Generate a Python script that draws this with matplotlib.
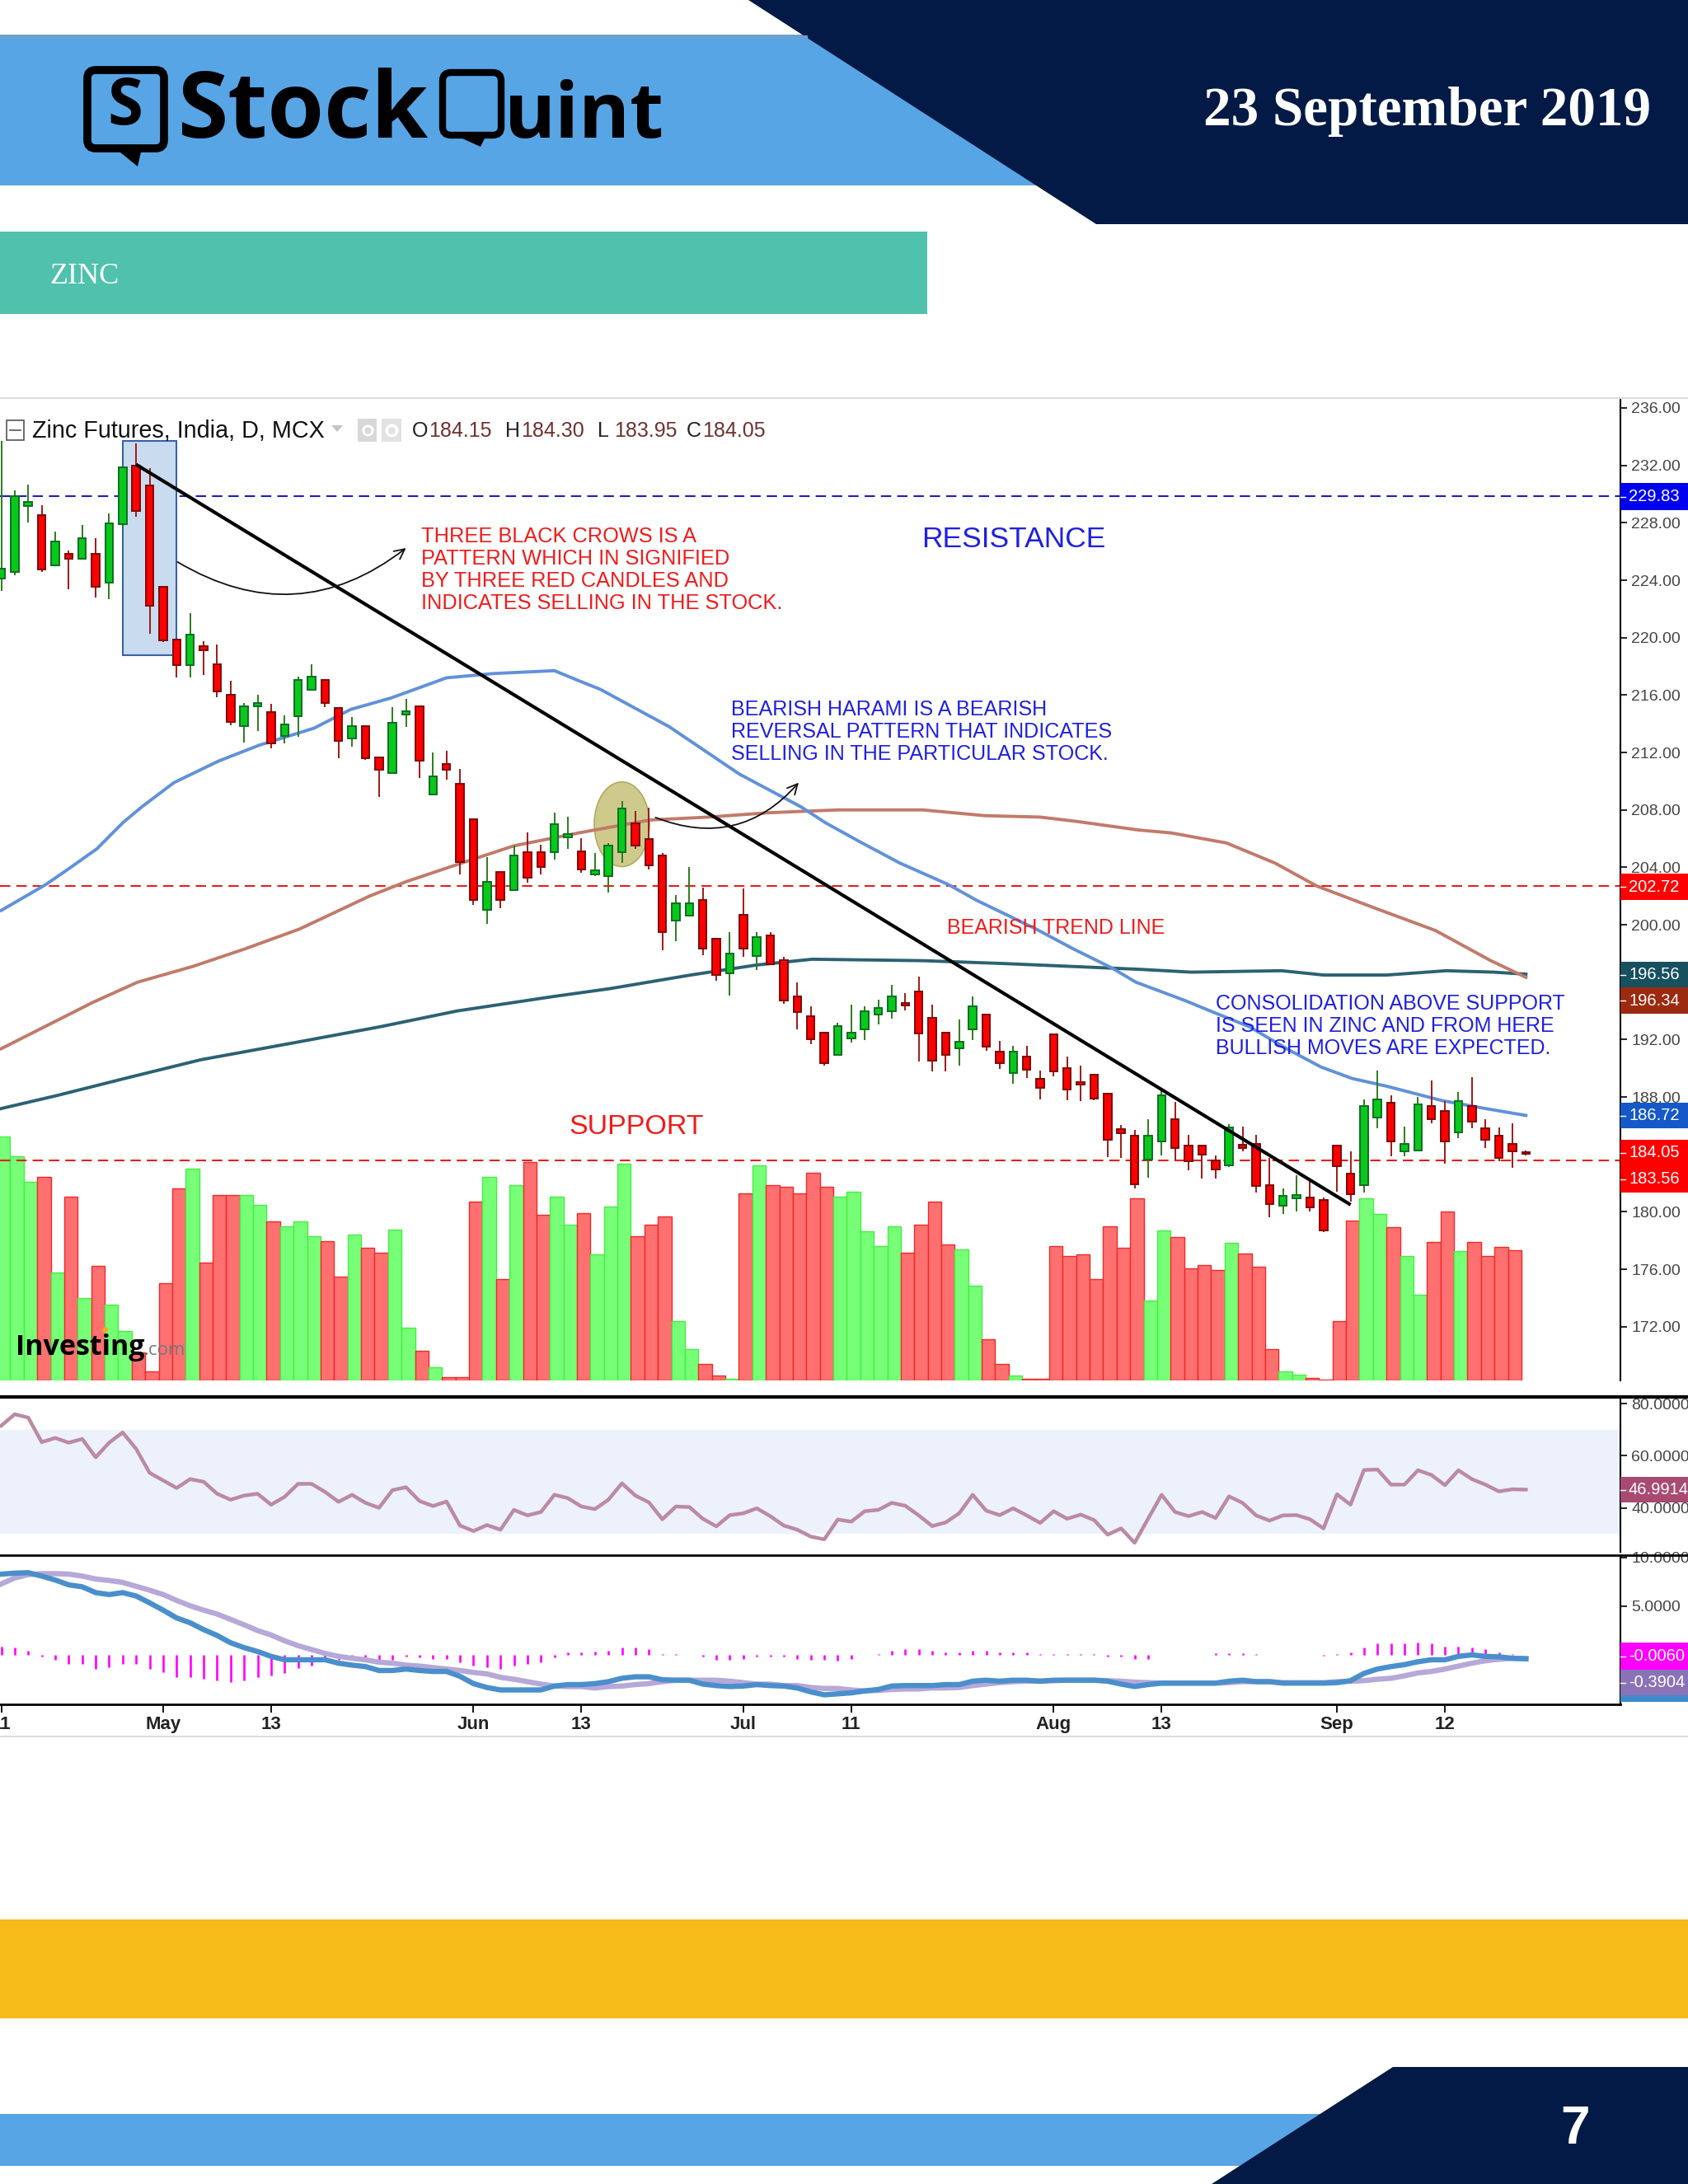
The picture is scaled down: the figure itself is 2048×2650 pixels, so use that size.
import matplotlib
matplotlib.use("Agg")
import matplotlib.pyplot as plt
from matplotlib.patches import Rectangle, Ellipse, Polygon, FancyBboxPatch

W, H = 2048, 2650
SANS = 'Liberation Sans'

opens = [224.14, 224.58, 229.17, 228.52, 225.03, 225.86, 225.47, 225.86, 223.85, 227.90,
         231.98, 230.62, 223.56, 219.87, 218.11, 219.41, 218.15, 216.04, 213.84, 215.20,
         214.80, 213.13, 214.53, 216.35, 217.06, 215.10, 213.00, 213.84, 211.64, 210.59,
         214.62, 215.24, 209.08, 211.18, 209.82, 207.37, 201.04, 203.68, 202.41, 205.08,
         205.08, 205.05, 206.10, 205.10, 203.49, 203.42, 205.05, 207.05, 205.97, 204.81,
         200.31, 200.65, 201.73, 199.04, 196.64, 200.67, 197.80, 199.28, 197.54, 195.01,
         193.61, 192.48, 190.92, 192.08, 192.69, 193.72, 193.95, 194.56, 195.35, 193.53,
         192.48, 191.40, 192.71, 193.74, 191.19, 189.68, 190.82, 189.26, 192.35, 190.03,
         189.05, 189.58, 188.21, 185.79, 185.32, 183.64, 184.93, 186.45, 184.62, 184.62,
         183.58, 183.27, 184.66, 184.73, 181.86, 180.42, 180.97, 181.02, 180.81, 184.62,
         182.66, 181.84, 186.55, 187.60, 184.21, 184.25, 187.37, 187.04, 185.53, 187.37,
         185.85, 185.32, 184.75, 184.15]
closes = [224.80, 229.88, 229.44, 224.77, 226.68, 225.47, 226.91, 223.52, 227.96, 231.88,
          228.82, 222.24, 219.83, 218.11, 220.21, 219.12, 216.23, 214.15, 215.24, 215.47,
          212.65, 213.97, 217.06, 217.30, 215.43, 212.79, 213.84, 211.60, 210.80, 214.09,
          214.85, 211.41, 210.36, 210.80, 204.34, 201.70, 202.97, 201.70, 204.81, 203.28,
          204.00, 207.03, 206.31, 203.86, 203.78, 205.52, 208.08, 205.52, 204.13, 199.51,
          201.49, 201.49, 198.33, 196.48, 198.01, 198.33, 199.15, 197.27, 194.72, 193.93,
          192.00, 190.34, 192.93, 192.48, 193.95, 194.19, 195.01, 194.40, 192.42, 190.55,
          190.92, 191.87, 194.30, 191.50, 190.34, 191.19, 189.89, 188.63, 189.79, 188.52,
          188.85, 187.90, 185.03, 185.48, 181.92, 185.32, 188.11, 184.46, 183.54, 184.01,
          182.96, 185.89, 184.42, 181.79, 180.52, 181.12, 181.16, 180.32, 178.68, 183.17,
          181.22, 187.37, 187.82, 184.93, 184.73, 187.49, 186.43, 184.93, 187.70, 186.30,
          185.05, 183.76, 184.23, 184.05]
highs = [233.70, 230.26, 230.64, 229.24, 227.39, 226.09, 227.87, 226.95, 228.67, 231.92,
         233.51, 231.79, 223.60, 219.90, 221.70, 219.73, 219.54, 217.00, 215.47, 216.04,
         215.39, 214.57, 217.30, 218.15, 217.10, 215.15, 214.47, 213.84, 211.64, 215.14,
         215.72, 215.24, 211.98, 212.14, 210.87, 207.40, 204.73, 203.70, 205.52, 206.45,
         205.58, 207.84, 207.50, 206.05, 205.00, 205.66, 208.60, 207.95, 208.16, 205.00,
         202.10, 204.02, 202.57, 199.04, 199.51, 202.55, 199.51, 199.51, 197.75, 195.96,
         194.32, 192.48, 193.19, 194.45, 194.32, 194.80, 195.82, 195.24, 196.38, 194.45,
         192.48, 193.40, 195.01, 193.74, 191.90, 191.56, 191.56, 189.84, 192.35, 190.84,
         190.20, 189.58, 188.21, 186.04, 185.69, 186.47, 188.56, 187.64, 185.34, 184.62,
         183.95, 186.14, 185.94, 185.34, 183.74, 181.63, 182.57, 182.20, 181.02, 184.62,
         184.21, 187.84, 189.83, 188.11, 185.94, 188.01, 189.13, 187.70, 188.35, 189.38,
         186.47, 185.89, 186.16, 184.30]
lows = [223.27, 224.33, 228.02, 224.56, 225.00, 223.37, 225.47, 222.80, 222.70, 227.68,
        228.44, 220.25, 219.68, 217.25, 217.25, 217.38, 215.87, 213.90, 212.71, 213.48,
        212.27, 212.62, 213.07, 216.35, 215.18, 211.60, 212.41, 211.47, 208.92, 210.59,
        213.80, 210.22, 209.08, 210.11, 203.49, 201.36, 200.04, 201.18, 202.36, 202.94,
        203.49, 204.55, 205.26, 203.63, 203.42, 202.23, 204.29, 205.26, 203.86, 198.20,
        198.88, 200.65, 197.88, 196.09, 195.06, 197.75, 196.83, 197.17, 194.51, 192.74,
        191.69, 190.21, 190.92, 191.82, 191.95, 193.08, 193.45, 194.01, 190.45, 189.76,
        189.76, 190.21, 191.95, 191.24, 189.97, 188.92, 189.31, 187.86, 189.42, 187.79,
        187.70, 187.78, 183.84, 183.74, 181.63, 182.37, 183.95, 183.60, 182.92, 182.35,
        182.35, 183.13, 184.21, 181.32, 179.60, 179.85, 180.05, 180.05, 178.62, 181.43,
        180.73, 181.34, 185.83, 183.89, 183.89, 184.25, 186.16, 183.37, 185.12, 185.83,
        184.44, 183.54, 183.07, 183.95]

volumes = [64.5, 59.2, 52.5, 53.8, 28.5, 48.6, 21.8, 30.2, 20.1, 13.0,
           7.5, 2.5, 25.7, 50.8, 56.0, 31.1, 49.0, 49.0, 49.0, 46.5,
           42.0, 40.8, 42.0, 38.2, 36.8, 27.5, 38.5, 35.0, 33.7, 39.8,
           14.0, 7.8, 3.5, 0.8, 0.8, 47.3, 53.8, 26.7, 51.7, 57.8,
           43.8, 48.6, 41.2, 44.3, 33.3, 46.0, 57.3, 38.1, 41.2, 43.4,
           15.7, 8.2, 4.3, 1.3, 0.5, 49.5, 56.8, 51.7, 51.2, 49.5,
           55.0, 51.2, 48.6, 49.9, 39.5, 35.5, 40.8, 33.7, 41.2, 47.3,
           36.0, 34.7, 25.0, 11.0, 4.3, 1.3, 0.4, 0.4, 35.5, 32.9,
           33.3, 26.7, 40.8, 35.0, 48.1, 21.2, 39.7, 38.0, 29.7, 30.6,
           29.2, 36.3, 33.6, 30.1, 8.2, 2.5, 1.6, 0.6, 0.2, 15.6,
           42.3, 48.1, 44.1, 40.6, 32.8, 22.6, 36.7, 44.6, 34.1, 36.7,
           32.8, 35.3, 34.5]

ma50_x = [0, 3.3, 5, 7.1, 9, 10.4, 12.8, 16.1, 19.1, 23.2, 25.9, 28.9, 33, 36.5, 41, 42.8, 44.4, 49.5,
          54.7, 59.3, 61.1, 63.6, 66.6, 70.2, 72.3, 76.7, 79.5, 82.3, 84.1, 87.8, 89.6, 92.5, 95.4, 97.8,
          100.1, 102.7, 106.8, 110, 113]
ma50_y = [201.0, 202.8, 203.9, 205.3, 207.1, 208.2, 209.9, 211.4, 212.5, 213.7, 215.0, 215.8, 217.2, 217.5,
          217.7, 217.0, 216.4, 213.8, 210.5, 208.2, 207.1, 205.8, 204.3, 202.8, 201.7, 199.7, 198.3, 197.0,
          196.0, 194.7, 194.0, 192.9, 191.3, 190.1, 189.3, 188.75, 187.75, 187.2, 186.72]
ma100_x = [0, 6.8, 10.1, 14.2, 18, 22.1, 27.3, 30, 33.8, 38, 42.8, 48.1, 52.4, 56.8, 62, 68.3, 72.9, 77,
           79.7, 84.3, 86.7, 90.8, 94.4, 97.5, 101.7, 106.3, 110.4, 113]
ma100_y = [191.37, 194.6, 196.0, 197.1, 198.3, 199.7, 202.0, 203.0, 204.2, 205.5, 206.4, 207.3, 207.5, 207.8,
           208.0, 208.0, 207.6, 207.5, 207.2, 206.6, 206.4, 205.7, 204.3, 202.7, 201.2, 199.6, 197.5, 196.34]
ma200_x = [0, 4.1, 9.6, 14.8, 21.8, 28.1, 33.8, 40.9, 45.1, 51.1, 56, 60.1, 68.3, 74.3, 84.3, 88.2, 94.9,
           98, 102.7, 107.1, 110.6, 113]
ma200_y = [187.2, 188.1, 189.4, 190.6, 191.8, 192.9, 194.0, 195.0, 195.55, 196.5, 197.2, 197.6, 197.5, 197.3,
           196.9, 196.7, 196.8, 196.5, 196.5, 196.8, 196.7, 196.56]

rsi = [71.5, 75.9, 74.6, 65.2, 66.8, 65.0, 66.4, 59.4, 65.0, 68.9,
       62.6, 53.4, 50.5, 47.6, 51.0, 50.0, 45.4, 43.1, 44.7, 45.4,
       41.2, 44.2, 49.2, 49.2, 46.1, 42.3, 45.0, 41.9, 40.0, 46.8,
       47.9, 42.6, 40.7, 42.4, 33.2, 31.1, 33.4, 31.6, 39.2, 37.1,
       38.4, 45.0, 43.7, 40.5, 39.5, 43.1, 49.4, 44.7, 42.1, 35.6,
       40.5, 40.3, 35.8, 32.9, 37.2, 37.9, 39.8, 36.8, 33.2, 31.6,
       28.97, 27.9, 35.5, 34.7, 38.7, 39.2, 41.9, 40.8, 37.1, 33.0,
       34.4, 37.9, 45.0, 38.9, 37.2, 39.8, 37.1, 34.2, 38.7, 35.8,
       37.4, 35.3, 29.7, 32.1, 26.6, 35.8, 45.0, 38.4, 36.8, 38.4,
       36.1, 44.4, 41.9, 37.1, 35.1, 37.1, 37.2, 35.6, 32.1, 45.2,
       41.2, 54.5, 54.7, 48.9, 48.9, 54.4, 52.6, 48.7, 54.4, 51.0,
       48.9, 46.3, 47.1, 46.99]

macd = [8.3, 8.4, 8.45, 8.1, 7.7, 7.2, 7.0, 6.4, 6.2, 6.4,
        6.05, 5.35, 4.6, 3.8, 3.3, 2.6, 2.0, 1.25, 0.75, 0.35,
        -0.15, -0.5, -0.5, -0.5, -0.5, -0.85, -1.05, -1.2, -1.6, -1.6,
        -1.45, -1.6, -1.7, -1.7, -2.2, -2.95, -3.35, -3.6, -3.6, -3.6,
        -3.6, -3.2, -3.05, -3.05, -2.95, -2.75, -2.4, -2.25, -2.25, -2.55,
        -2.6, -2.6, -3.0, -3.15, -3.25, -3.2, -3.05, -3.15, -3.2, -3.4,
        -3.8, -4.1, -4.0, -3.9, -3.7, -3.55, -3.2, -3.15, -3.15, -3.15,
        -3.05, -3.05, -2.7, -2.6, -2.7, -2.6, -2.6, -2.7, -2.6, -2.6,
        -2.6, -2.6, -2.7, -3.0, -3.25, -3.05, -2.9, -2.9, -2.9, -2.9,
        -2.9, -2.7, -2.6, -2.75, -2.75, -2.9, -2.9, -2.9, -2.9, -2.85,
        -2.65, -1.9, -1.45, -1.2, -1.0, -0.7, -0.5, -0.5, -0.15, 0.0,
        -0.15, -0.2, -0.35, -0.39]
signal = [7.3, 7.9, 8.25, 8.35, 8.35, 8.3, 8.1, 7.8, 7.65, 7.45,
          7.05, 6.65, 6.2, 5.6, 5.05, 4.6, 4.2, 3.65, 3.1, 2.5,
          2.05, 1.45, 0.95, 0.55, 0.15, -0.15, -0.35, -0.5, -0.75, -0.85,
          -1.05, -1.15, -1.3, -1.45, -1.6, -1.8, -1.95, -2.3, -2.5, -2.75,
          -3.0, -3.2, -3.25, -3.25, -3.4, -3.25, -3.2, -3.05, -2.95, -2.75,
          -2.6, -2.6, -2.6, -2.6, -2.7, -2.85, -3.0, -3.0, -3.15, -3.15,
          -3.35, -3.45, -3.45, -3.6, -3.7, -3.65, -3.55, -3.5, -3.5, -3.4,
          -3.4, -3.35, -3.15, -3.0, -2.85, -2.75, -2.7, -2.7, -2.65, -2.6,
          -2.6, -2.6, -2.65, -2.7, -2.8, -2.85, -2.9, -2.9, -2.9, -2.9,
          -2.9, -2.85, -2.75, -2.75, -2.75, -2.85, -2.85, -2.85, -2.85, -2.75,
          -2.7, -2.65, -2.5, -2.4, -2.15, -1.85, -1.7, -1.45, -1.15, -0.85,
          -0.6, -0.45, -0.35, -0.39]
hist = [.88, .74, .40, -.17, -.54, -.90, -.90, -1.44, -1.24, -.90,
        -.90, -1.44, -1.75, -2.26, -2.26, -2.46, -2.60, -2.80, -2.66, -2.26,
        -2.09, -1.90, -1.38, -1.10, -.54, -.54, -.54, -.62, -.68, -.54,
        -.17, -.28, -.45, -.45, -.73, -1.10, -1.30, -1.44, -1.10, -.96,
        -.73, -.23, .23, .23, .37, .40, .74, .74, .56, .10,
        .10, 0, -.17, -.54, -.54, -.45, -.20, -.20, -.20, -.40,
        -.54, -.54, -.62, -.45, 0, .10, .45, .60, .60, .40,
        .23, .23, .45, .45, .23, .23, .23, .10, .10, .10,
        .10, .10, -.17, -.17, -.40, -.40, 0, 0, 0, 0,
        .17, .17, .17, .10, 0, 0, 0, 0, -.10, .10,
        .23, .74, 1.16, 1.16, 1.16, 1.30, 1.16, .88, .88, .74,
        .60, .23, .10, 0]

price_ticks = [172, 176, 180, 184, 188, 192, 196, 200, 204, 208, 212, 216, 220, 224, 228, 232, 236]
rsi_ticks = [40, 60, 80]
macd_ticks = [5, 10]
date_ticks = [0, 12, 20, 35, 43, 55, 63, 78, 86, 99, 107]
date_labels = ['11', 'May', '13', 'Jun', '13', 'Jul', '11', 'Aug', '13', 'Sep', '12']
resistance = 229.83
levels_red = [202.72, 183.56]

BAR_PX = 16.37
X0 = 1.5
AXIS_PX = 1966
xlim = (-X0 / BAR_PX, (AXIS_PX - X0) / BAR_PX)


def make_axes(fig, top, bottom):
    ax = fig.add_axes([0, 1 - bottom / H, AXIS_PX / W, (bottom - top) / H])
    ax.set_xlim(*xlim)
    ax.patch.set_alpha(0)
    for s in ['top', 'left', 'bottom']:
        ax.spines[s].set_visible(False)
    ax.spines['right'].set_linewidth(1.5)
    ax.set_xticks([])
    ax.yaxis.tick_right()
    ax.tick_params(axis='y', length=6, width=1.2, pad=3.5, labelsize=14, labelcolor='#444444')
    return ax


def draw_price(ax):
    x = list(range(len(opens)))
    up = [c >= o for o, c in zip(opens, closes)]
    for level in levels_red:
        ax.plot(xlim, [level, level], color='#e81c1c', lw=1.5, dashes=(6, 3.5), zorder=1)
    ax.plot(xlim, [resistance, resistance], color='#1c1cd0', lw=1.5, dashes=(6, 3.5), zorder=1)

    ax.add_patch(Rectangle((9.0, 218.8), 3.98, 14.9, facecolor='#c9dcef', edgecolor='#3a62a7', lw=1.5, zorder=1.5))
    ax.add_patch(Ellipse((46.0, 207.0), 4.1, 5.9, facecolor='#cdca8c', edgecolor='#b0ab62', lw=1.2, zorder=1.5))

    ax.plot(ma200_x, ma200_y, color='#2c6172', lw=2.8, zorder=2)
    ax.plot(ma100_x, ma100_y, color='#c27a6a', lw=2.8, zorder=2)
    ax.plot(ma50_x, ma50_y, color='#6291da', lw=2.8, zorder=2)

    wick_colors = ['#2f7a1e' if u else '#a01818' for u in up]
    ax.vlines(x, lows, highs, colors=wick_colors, lw=1.4, zorder=3)
    bottoms = [min(o, c) for o, c in zip(opens, closes)]
    heights = [abs(c - o) for o, c in zip(opens, closes)]
    ax.bar(x, heights, bottom=bottoms, width=0.58,
           color=['#08c81c' if u else '#ff0000' for u in up],
           edgecolor=['#0f6e22' if u else '#7d0a0a' for u in up], linewidth=1.4, zorder=4)

    # trend line and pattern arrows
    ax.plot([10.1, 99.9], [232.0, 180.56], color='black', lw=3, zorder=5)
    ax.annotate('', xy=(30.0, 226.24), xytext=(13.07, 225.27),
                arrowprops=dict(arrowstyle='->', connectionstyle='arc3,rad=0.34', color='#111111',
                                lw=1.3, shrinkA=0, shrinkB=0, mutation_scale=22), zorder=5)
    ax.annotate('', xy=(59.1, 209.9), xytext=(48.5, 207.47),
                arrowprops=dict(arrowstyle='->', connectionstyle='arc3,rad=0.35', color='#111111',
                                lw=1.3, shrinkA=0, shrinkB=0, mutation_scale=22), zorder=5)

    red = '#f01c1c'
    blue = '#2020e0'
    opts = dict(family=SANS, va='center', ha='left', zorder=6, linespacing=1.16)
    ax.text(31.1, 224.7, 'THREE BLACK CROWS IS A\nPATTERN WHICH IN SIGNIFIED\nBY THREE RED CANDLES AND\n'
            'INDICATES SELLING IN THE STOCK.', color=red, fontsize=18.3, **opts)
    ax.text(68.2, 226.85, 'RESISTANCE', color=blue, fontsize=25.5, **opts)
    ax.text(54.1, 213.45, 'BEARISH HARAMI IS A BEARISH\nREVERSAL PATTERN THAT INDICATES\n'
            'SELLING IN THE PARTICULAR STOCK.', color=blue, fontsize=18.1, **opts)
    ax.text(70.1, 199.8, 'BEARISH TREND LINE', color=red, fontsize=18, **opts)
    ax.text(42.1, 185.9, 'SUPPORT', color=red, fontsize=24.5, **opts)
    ax.text(90.0, 192.95, 'CONSOLIDATION ABOVE SUPPORT\nIS SEEN IN ZINC AND FROM HERE\n'
            'BULLISH MOVES ARE EXPECTED.', color=blue, fontsize=18, **opts)


def draw_volume(ax):
    up = [c >= o for o, c in zip(opens, closes)]
    x = [i + 0.17 for i in range(len(volumes))]
    ax.bar(x, volumes, width=1.0,
           color=['#77ff77' if up[i] else '#ff7070' for i in range(len(volumes))],
           edgecolor=['#45ee45' if up[i] else '#ee2a2a' for i in range(len(volumes))], linewidth=1.0)


def draw_rsi(ax):
    ax.axhspan(30, 70, facecolor='#ecf1fc', edgecolor='none')
    ax.plot(range(len(rsi)), rsi, color='#bb8aa4', lw=3.2)


def draw_macd(ax):
    x = list(range(len(macd)))
    ax.vlines(x, 0, hist, colors='#ff00ff', lw=1.9)
    ax.plot(x, signal, color='#b6a8d8', lw=4.6)
    ax.plot(x, macd, color='#4a8fcc', lw=4.6)
    ax.spines['bottom'].set_visible(True)
    ax.spines['bottom'].set_linewidth(2)
    ax.set_xticks(date_ticks)
    ax.set_xticklabels(date_labels, family=SANS, fontsize=16, fontweight='bold', color='#222222')
    ax.tick_params(axis='x', length=7, width=1.3, pad=3)


def price_box(page, text, top, bottom, color):
    page.add_patch(Rectangle((1966, top), 82, bottom - top, facecolor=color, edgecolor='none'))
    page.plot([1966, 1972], [(top + bottom) / 2] * 2, color='white', lw=1)
    page.text(1976, (top + bottom) / 2, text, color='white', fontsize=14.5, family=SANS,
              va='center', ha='left')


def bubble(page, x0, y0, x1, y1, tail, lw):
    page.add_patch(FancyBboxPatch((x0, y0), x1 - x0, y1 - y0, boxstyle='round,pad=0,rounding_size=10',
                                  facecolor='none', edgecolor='black', lw=lw))
    page.add_patch(Polygon(tail, closed=True, facecolor='black', edgecolor='none'))


def draw_page(page):
    page.set_xlim(0, W)
    page.set_ylim(H, 0)
    page.axis('off')
    page.patch.set_alpha(0)

    # header shapes
    page.add_patch(Rectangle((0, 42), 1300, 183, facecolor='#58a5e6', edgecolor='none'))
    page.plot([0, 978], [45, 45], color='#6f9fce', lw=3)
    page.add_patch(Polygon([(908, 0), (W, 0), (W, 272), (1330, 272)], closed=True, facecolor='#021a45', edgecolor='none'))
    page.text(1460, 136, '23 September 2019', color='white', family='Liberation Serif', fontweight='bold',
              fontsize=48.3, va='center', ha='left')

    # logo
    bubble(page, 106, 85, 199, 180, [(140, 180), (172, 180), (167, 202)], 7)
    page.text(152, 131, 'S', color='black', family='Open Sans', fontweight='bold', fontsize=56, va='center', ha='center')
    page.text(216, 167, 'Stock', color='black', family='Open Sans', fontweight='bold', fontsize=80, va='baseline', ha='left')
    bubble(page, 537, 88, 608, 164, [(552, 164), (590, 164), (583, 178)], 6)
    page.text(612, 167, 'uint', color='black', family='Open Sans', fontweight='bold', fontsize=68, va='baseline', ha='left')

    # section bar
    page.add_patch(Rectangle((0, 281), 1125, 100, facecolor='#4fc1ac', edgecolor='none'))
    page.text(60, 336, 'ZINC', color='white', family='Liberation Serif', fontsize=26, va='center', ha='left')

    # chart frame lines
    page.plot([0, W], [483, 483], color='#dddddd', lw=1.5)
    page.plot([0, W], [1695, 1695], color='black', lw=3)
    page.plot([0, W], [1887, 1887], color='black', lw=2)
    page.plot([0, W], [2107, 2107], color='#dddddd', lw=1.5)

    # chart legend row
    page.add_patch(Rectangle((8, 510), 21, 24, facecolor='white', edgecolor='#555555', lw=1.2))
    page.plot([12, 25], [522, 522], color='#555555', lw=1.2)
    page.text(39, 523, 'Zinc Futures, India, D, MCX', color='#111111', family=SANS, fontsize=20.7, va='center', ha='left')
    page.add_patch(Polygon([(402, 516), (416, 516), (409, 524)], closed=True, facecolor='#c4c4c4', edgecolor='none'))
    page.add_patch(Rectangle((434, 508), 23, 28, facecolor='#d8d8d8', edgecolor='none'))
    page.add_patch(Rectangle((463, 508), 24, 28, facecolor='#e2e2e2', edgecolor='none'))
    page.plot([445.5], [522], marker='o', ms=8, mfc='none', mec='white', mew=2)
    page.plot([475], [522], marker='o', ms=9, mfc='none', mec='white', mew=2.5)
    for x_l, x_v, letter, value in [(500, 520, 'O', '184.15'), (613, 632, 'H', '184.30'),
                                    (725, 745, 'L', '183.95'), (833, 852, 'C', '184.05')]:
        page.text(x_l, 523, letter, color='#222222', family=SANS, fontsize=18, va='center', ha='left')
        page.text(x_v, 523, value, color='#6e3232', family=SANS, fontsize=18, va='center', ha='left')

    # watermark
    page.text(19, 1635, 'Investing', color='black', family='Open Sans', fontweight='bold', fontsize=24.5, va='center', ha='left')
    page.text(174, 1638, '.com', color='#777777', family='Open Sans', fontsize=16, va='center', ha='left')
    page.plot([127], [1613], marker='o', ms=4, color='#f5a623')

    # last value boxes
    price_box(page, '229.83', 586, 619, '#0000f0')
    price_box(page, '202.72', 1060, 1092, '#ff0000')
    price_box(page, '196.56', 1167, 1198, '#17505f')
    price_box(page, '196.34', 1198, 1230, '#9c2a10')
    price_box(page, '186.72', 1338, 1369, '#1558c8')
    price_box(page, '184.05', 1383, 1415, '#ff0000')
    price_box(page, '183.56', 1415, 1447, '#ff0000')
    price_box(page, '46.9914', 1792, 1823, '#a84a72')
    price_box(page, '-0.0060', 1993, 2026, '#ff00ff')
    price_box(page, '-0.3904', 2026, 2057, '#8a72b8')
    page.add_patch(Rectangle((1966, 2057), 82, 8, facecolor='#3f8acb', edgecolor='none'))

    # footer
    page.add_patch(Rectangle((0, 2329), W, 120, facecolor='#f6bb18', edgecolor='none'))
    page.add_patch(Rectangle((0, 2565), 1650, 63, facecolor='#58a5e6', edgecolor='none'))
    page.add_patch(Polygon([(1690, 2508), (W, 2508), (W, H), (1470, H)], closed=True, facecolor='#021a45', edgecolor='none'))
    page.text(1911, 2584, '7', color='white', family=SANS, fontweight='bold', fontsize=46, va='center', ha='center')


if __name__ == "__main__":
    fig = plt.figure(figsize=(W / 100, H / 100), dpi=100, facecolor='white')

    vol_ax = fig.add_axes([0, 1 - 1675 / H, AXIS_PX / W, (1675 - 484) / H])
    vol_ax.set_xlim(*xlim)
    vol_ax.set_ylim(0, 259.5)
    vol_ax.axis('off')
    draw_volume(vol_ax)

    price_ax = make_axes(fig, 484, 1675)
    price_ax.set_ylim(168.26, 236.63)
    price_ax.set_yticks(price_ticks)
    price_ax.set_yticklabels(['%.2f' % t for t in price_ticks], family=SANS)
    draw_price(price_ax)

    rsi_ax = make_axes(fig, 1697, 1883)
    rsi_ax.set_ylim(23.1, 81.9)
    rsi_ax.set_yticks(rsi_ticks)
    rsi_ax.set_yticklabels(['%.4f' % t for t in rsi_ticks], family=SANS)
    draw_rsi(rsi_ax)

    macd_ax = make_axes(fig, 1889, 2068)
    macd_ax.set_ylim(-5.08, 10.08)
    macd_ax.set_yticks(macd_ticks)
    macd_ax.set_yticklabels(['%.4f' % t for t in macd_ticks], family=SANS)
    draw_macd(macd_ax)

    page = fig.add_axes([0, 0, 1, 1], zorder=10)
    draw_page(page)

    fig.savefig('out.png', dpi=100)
